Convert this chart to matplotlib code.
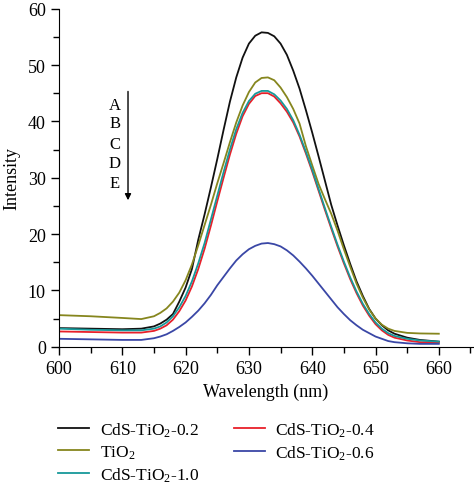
import matplotlib
matplotlib.use('Agg')
import matplotlib.pyplot as plt
from matplotlib.ticker import MultipleLocator

plt.rcParams['font.family'] = ['Liberation Serif', 'DejaVu Serif']
plt.rcParams['mathtext.fontset'] = 'custom'
plt.rcParams['mathtext.rm'] = 'Liberation Serif'
plt.rcParams['mathtext.default'] = 'regular'

# wavelength grid (nm)
wl = [600, 605, 610, 613, 615, 616, 617, 618, 619, 620, 621, 622, 623, 624,
      625, 626, 627, 628, 629, 630, 631, 632, 633, 634, 635, 636, 637, 638,
      639, 640, 641, 642, 643, 644, 645, 646, 647, 648, 649, 650, 651, 652,
      653, 655, 657, 660]

cds_02 = [3.3, 3.2, 3.1, 3.2, 3.6, 4.1, 4.8, 5.8, 8.0, 10.5, 13.8, 19.0, 23.5, 28.3,
          33.3, 38.5, 43.5, 47.8, 51.3, 53.8, 55.2, 55.8, 55.7, 55.1, 53.8, 51.8, 49.0, 45.8,
          42.0, 38.0, 33.8, 29.5, 25.2, 21.5, 18.0, 14.7, 11.6, 9.0, 6.7, 5.0, 3.8, 2.9,
          2.3, 1.6, 1.2, 0.9]
tio2 = [5.6, 5.4, 5.1, 4.9, 5.4, 6.0, 6.8, 8.0, 9.6, 11.8, 14.6, 18.0, 21.6, 25.2,
        29.0, 32.6, 36.3, 39.8, 42.8, 45.2, 46.9, 47.7, 47.8, 47.3, 46.0, 44.3, 42.2, 39.6,
        35.6, 32.2, 28.9, 26.2, 23.6, 20.6, 17.3, 14.2, 11.2, 8.7, 6.6, 5.0, 3.9, 3.2,
        2.8, 2.45, 2.35, 2.3]
cds_10 = [3.2, 3.0, 2.9, 2.9, 3.2, 3.6, 4.3, 5.4, 7.0, 9.0, 11.6, 14.8, 18.4, 22.6,
          26.8, 31.0, 35.0, 38.6, 41.5, 43.6, 44.9, 45.4, 45.4, 44.8, 43.7, 42.2, 40.2, 37.6,
          34.6, 31.4, 28.0, 24.6, 21.3, 18.1, 15.1, 12.3, 9.8, 7.6, 5.8, 4.3, 3.2, 2.4,
          1.9, 1.4, 1.1, 0.9]
cds_04 = [2.7, 2.6, 2.5, 2.5, 2.8, 3.2, 3.8, 4.8, 6.3, 8.2, 10.7, 13.8, 17.4, 21.5,
          25.8, 30.0, 34.1, 37.8, 40.9, 43.1, 44.5, 45.0, 45.0, 44.4, 43.2, 41.7, 39.8, 37.3,
          34.3, 31.1, 27.7, 24.3, 21.0, 17.8, 14.8, 12.0, 9.5, 7.3, 5.5, 4.0, 2.9, 2.1,
          1.6, 1.1, 0.8, 0.7]
cds_06 = [1.4, 1.3, 1.2, 1.2, 1.5, 1.8, 2.2, 2.8, 3.5, 4.3, 5.3, 6.4, 7.7, 9.2,
          10.9, 12.4, 13.9, 15.3, 16.4, 17.3, 17.9, 18.3, 18.4, 18.2, 17.8, 17.1, 16.2, 15.1,
          13.9, 12.6, 11.2, 9.8, 8.4, 7.0, 5.8, 4.7, 3.8, 3.0, 2.4, 1.8, 1.4, 1.0,
          0.8, 0.6, 0.5, 0.5]

letters = ['A', 'B', 'C', 'D', 'E']
letter_y = [42.9, 39.7, 36.0, 32.6, 29.0]

fig = plt.figure(figsize=(4.74, 4.89), dpi=100)
ax = fig.add_axes([0.1245, 0.289, 0.8734, 0.6912])

lw = 1.3
l1, = ax.plot(wl, cds_02, color='#111111', lw=lw)
l2, = ax.plot(wl, tio2, color='#86861e', lw=lw)
l4, = ax.plot(wl, cds_04, color='#e8202a', lw=lw)
l3, = ax.plot(wl, cds_10, color='#17999a', lw=lw)
l5, = ax.plot(wl, cds_06, color='#3a47a6', lw=lw)

ax.set_xlim(600, 665.4)
ax.set_ylim(0, 60)
ax.xaxis.set_major_locator(MultipleLocator(10))
ax.xaxis.set_minor_locator(MultipleLocator(5))
ax.yaxis.set_major_locator(MultipleLocator(10))
ax.yaxis.set_minor_locator(MultipleLocator(5))
ax.spines['top'].set_visible(False)
ax.spines['right'].set_visible(False)
ax.tick_params(which='major', length=6, width=1, labelsize=13)
ax.tick_params(which='minor', length=4, width=1)
ax.set_xlabel('Wavelength (nm)', fontsize=13, labelpad=4)
ax.set_ylabel('Intensity', fontsize=13, labelpad=5)

# A-E labels and arrow
for s, yy in zip(letters, letter_y):
    ax.text(608.8, yy, s, fontsize=12, ha='center', va='center')
ax.annotate('', xy=(610.9, 25.5), xytext=(610.9, 45.8),
            arrowprops=dict(arrowstyle='-|>', color='black', lw=1, mutation_scale=9))

labels = ['CdS-TiO$_2$-0.2', 'TiO$_2$', 'CdS-TiO$_2$-1.0',
          'CdS-TiO$_2$-0.4', 'CdS-TiO$_2$-0.6']
fig.legend([l1, l2, l3, l4, l5], labels, ncol=2, frameon=False,
           loc='upper left', bbox_to_anchor=(0.104, 0.156), fontsize=12.5,
           handlelength=1.8, handletextpad=0.6, columnspacing=2.0,
           labelspacing=0.26, borderpad=0)

fig.savefig('out.png', dpi=100)
